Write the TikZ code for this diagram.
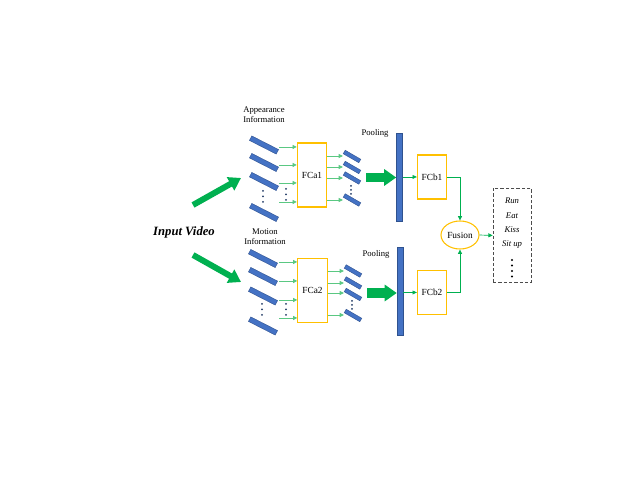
\documentclass[tikz,border=0pt]{standalone}
\usepackage{fontspec}
\setmainfont{Liberation Serif}
\usetikzlibrary{arrows.meta}
\usetikzlibrary{shapes.geometric}
\definecolor{framefill}{RGB}{68,114,196}
\definecolor{frameedge}{RGB}{47,82,143}
\definecolor{dotblue}{RGB}{31,56,100}
\definecolor{arrowgreen}{RGB}{0,176,80}
\definecolor{lightgreen}{RGB}{90,200,130}
\definecolor{boxyellow}{RGB}{255,192,0}

\begin{document}
\begin{tikzpicture}[x=0.75pt,y=-0.75pt,
	lbl/.style={font=\fontsize{6.5}{7.5}\selectfont, align=center, inner sep=0pt},
	framebase/.style={draw=frameedge, fill=framefill, line width=0.3pt, inner sep=0pt},
	frame/.style={framebase, minimum width=22.5pt, minimum height=3.8pt, rotate=-27},
	smallframe/.style={framebase, minimum width=13.5pt, minimum height=3pt, rotate=-30},
	fcbox/.style={draw=boxyellow, line width=0.8pt, minimum width=22pt, inner sep=0pt, font=\fontsize{7}{8}\selectfont},
	poolbar/.style={draw=frameedge, fill=framefill, line width=0.4pt, minimum width=4.5pt, minimum height=66pt, inner sep=0pt},
	thinarrow/.style={draw=lightgreen, line width=0.6pt, -{Triangle[length=3.2pt,width=3pt]}},
	linkarrow/.style={draw=arrowgreen, line width=0.5pt, -{Triangle[length=3.2pt,width=3pt]}},
	bigarrow/.style={draw=arrowgreen, line width=7pt, -{Triangle[length=9pt,width=12pt]}},
	inarrow/.style={draw=arrowgreen, line width=4.5pt, -{Triangle[length=9pt,width=11pt]}}]

	\useasboundingbox (0,0) rectangle (644,498);

	\node[font=\fontsize{9.5}{11}\selectfont\bfseries\itshape, inner sep=0pt] (video) at (184,232) {Input Video};
	\coordinate (vu) at (193,205);
	\coordinate (vut) at (241,178);
	\coordinate (vd) at (193,255);
	\coordinate (vdt) at (241,282);
	\draw[inarrow] (vu) -- (vut);
	\draw[inarrow] (vd) -- (vdt);

	\node[lbl] (appinfo) at (264,115) {Appearance\\Information};
	\node[frame] (fa1) at (264,145) {};
	\node[frame] (fa2) at (264,162.5) {};
	\node[frame] (fa3) at (264,181.5) {};
	\node[frame] (fa4) at (264,212.5) {};
	\fill[dotblue] (263,191) circle (0.75pt);
	\fill[dotblue] (263,196.5) circle (0.75pt);
	\fill[dotblue] (263,202) circle (0.75pt);
	\fill[dotblue] (286,189) circle (0.75pt);
	\fill[dotblue] (286,194.5) circle (0.75pt);
	\fill[dotblue] (286,200) circle (0.75pt);

	\node[fcbox, minimum height=48pt] (fca1) at (312,175) {FCa1};
	\coordinate (ia1) at (279,147);
	\coordinate (ia2) at (279,165);
	\coordinate (ia3) at (279,183);
	\coordinate (ia4) at (279,202);
	\draw[thinarrow] (ia1) -- (ia1 -| fca1.west);
	\draw[thinarrow] (ia2) -- (ia2 -| fca1.west);
	\draw[thinarrow] (ia3) -- (ia3 -| fca1.west);
	\draw[thinarrow] (ia4) -- (ia4 -| fca1.west);

	\node[smallframe] (sa1) at (352,156.5) {};
	\node[smallframe] (sa2) at (352,167.5) {};
	\node[smallframe] (sa3) at (352,178) {};
	\node[smallframe] (sa4) at (352,200) {};
	\coordinate (oa1) at (343,156);
	\coordinate (oa2) at (343,167);
	\coordinate (oa3) at (343,178);
	\coordinate (oa4) at (343,200);
	\draw[thinarrow] (oa1 -| fca1.east) -- (oa1);
	\draw[thinarrow] (oa2 -| fca1.east) -- (oa2);
	\draw[thinarrow] (oa3 -| fca1.east) -- (oa3);
	\draw[thinarrow] (oa4 -| fca1.east) -- (oa4);
	\fill[dotblue] (351,186) circle (0.75pt);
	\fill[dotblue] (351,190) circle (0.75pt);
	\fill[dotblue] (351,194) circle (0.75pt);

	\node[lbl] (pooltxt1) at (375,133) {Pooling};
	\node[poolbar] (pool1) at (399.5,177.5) {};
	\coordinate (ba1) at (366,177.5);
	\draw[bigarrow] (ba1) -- (ba1 -| pool1.west);

	\node[fcbox, minimum height=33pt] (fcb1) at (432,177) {FCb1};
	\draw[linkarrow] (pool1.east |- fcb1.west) -- (fcb1.west);

	\node[lbl] (motinfo) at (265,237) {Motion\\Information};
	\node[frame] (fb1) at (263,258.5) {};
	\node[frame] (fb2) at (263,276.5) {};
	\node[frame] (fb3) at (263,296) {};
	\node[frame] (fb4) at (263,326) {};
	\fill[dotblue] (262,304) circle (0.75pt);
	\fill[dotblue] (262,309.5) circle (0.75pt);
	\fill[dotblue] (262,315) circle (0.75pt);
	\fill[dotblue] (286,304) circle (0.75pt);
	\fill[dotblue] (286,309.5) circle (0.75pt);
	\fill[dotblue] (286,315) circle (0.75pt);

	\node[fcbox, minimum height=48.5pt] (fca2) at (312.5,290.5) {FCa2};
	\coordinate (ib1) at (279,262);
	\coordinate (ib2) at (279,281);
	\coordinate (ib3) at (279,300);
	\coordinate (ib4) at (279,318);
	\draw[thinarrow] (ib1) -- (ib1 -| fca2.west);
	\draw[thinarrow] (ib2) -- (ib2 -| fca2.west);
	\draw[thinarrow] (ib3) -- (ib3 -| fca2.west);
	\draw[thinarrow] (ib4) -- (ib4 -| fca2.west);

	\node[smallframe] (sb1) at (353,271) {};
	\node[smallframe] (sb2) at (353,283) {};
	\node[smallframe] (sb3) at (353,294.5) {};
	\node[smallframe] (sb4) at (353,315.5) {};
	\coordinate (ob1) at (344,271);
	\coordinate (ob2) at (344,283);
	\coordinate (ob3) at (344,293);
	\coordinate (ob4) at (344,315);
	\draw[thinarrow] (ob1 -| fca2.east) -- (ob1);
	\draw[thinarrow] (ob2 -| fca2.east) -- (ob2);
	\draw[thinarrow] (ob3 -| fca2.east) -- (ob3);
	\draw[thinarrow] (ob4 -| fca2.east) -- (ob4);
	\fill[dotblue] (352,301) circle (0.75pt);
	\fill[dotblue] (352,305) circle (0.75pt);
	\fill[dotblue] (352,309) circle (0.75pt);

	\node[lbl] (pooltxt2) at (376,254) {Pooling};
	\node[poolbar] (pool2) at (400,291.5) {};
	\coordinate (ba2) at (367,293);
	\draw[bigarrow] (ba2) -- (ba2 -| pool2.west);

	\node[fcbox, minimum height=33pt] (fcb2) at (432,292.5) {FCb2};
	\draw[linkarrow] (pool2.east |- fcb2.west) -- (fcb2.west);

	\node[ellipse, draw=boxyellow, line width=0.8pt, minimum width=28.5pt, minimum height=21pt, inner sep=0pt, font=\fontsize{7}{8}\selectfont] (fusion) at (460,235) {Fusion};
	\draw[linkarrow] (fcb1.east) -| (fusion.north);
	\draw[linkarrow] (fcb2.east) -| (fusion.south);

	\node[draw=black!70, line width=0.5pt, dash pattern=on 2.5pt off 1.5pt, minimum width=28.5pt, minimum height=71pt, inner sep=0pt] (classes) at (512,235.5) {};
	\draw[linkarrow] (fusion.east) -- (classes.west);
	\node[lbl, font=\fontsize{6.5}{7.5}\selectfont\itshape] (run) at (512,201) {Run};
	\node[lbl, font=\fontsize{6.5}{7.5}\selectfont\itshape] (eat) at (512,215.5) {Eat};
	\node[lbl, font=\fontsize{6.5}{7.5}\selectfont\itshape] (kiss) at (512,230) {Kiss};
	\node[lbl, font=\fontsize{6.5}{7.5}\selectfont\itshape] (situp) at (512,245) {Sit up};
	\fill[black] (512,260) circle (0.8pt);
	\fill[black] (512,265.5) circle (0.8pt);
	\fill[black] (512,271) circle (0.8pt);
	\fill[black] (512,276.5) circle (0.8pt);
\end{tikzpicture}
\end{document}
